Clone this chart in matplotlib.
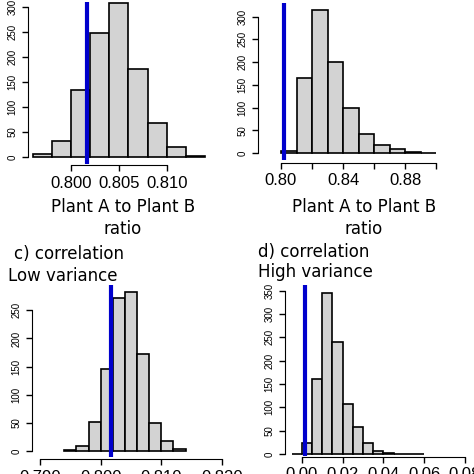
import matplotlib
matplotlib.use("Agg")
import matplotlib.pyplot as plt
import numpy as np

# Panel a
a_edges = [0.796, 0.798, 0.800, 0.802, 0.804, 0.806, 0.808, 0.810, 0.812, 0.814]
a_counts = [7, 33, 135, 248, 308, 177, 69, 20, 3]
a_line = 0.8017
# Panel b
b_edges = [0.80, 0.81, 0.82, 0.83, 0.84, 0.85, 0.86, 0.87, 0.88, 0.89, 0.90]
b_counts = [5, 165, 315, 200, 100, 42, 17, 8, 2, 1]
b_line = 0.802
# Panel c
c_edges = [0.794, 0.796, 0.798, 0.800, 0.802, 0.804, 0.806, 0.808, 0.810, 0.812, 0.814]
c_counts = [2, 8, 52, 145, 272, 282, 173, 49, 18, 3]
c_line = 0.8017
# Panel d
d_edges = [-0.005, 0.0, 0.005, 0.010, 0.015, 0.020, 0.025, 0.030, 0.035, 0.040, 0.045, 0.050, 0.055, 0.060]
d_counts = [0, 23, 160, 345, 240, 107, 57, 24, 7, 3, 1, 1, 1]
d_line = 0.0017

xlabel_text = "Plant A to Plant B\nratio"
c_title1 = "c) correlation"
c_title2 = "Low variance"
d_title = "d) correlation\nHigh variance"

W = 474
fig = plt.figure(figsize=(4.74, 4.74), dpi=100)
tickfont = dict(family=['Liberation Sans Narrow', 'Liberation Sans', 'DejaVu Sans'])

def make_ax(xl, yl, pxL, pxR, pyB, pyT):
    ax = fig.add_axes([pxL / W, 1 - pyB / W, (pxR - pxL) / W, (pyB - pyT) / W])
    ax.set_xlim(*xl); ax.set_ylim(*yl)
    ax.patch.set_alpha(0)
    for s in ['top', 'right']:
        ax.spines[s].set_visible(False)
    return ax

def draw(ax, edges, counts, line, xticks, xlabels, yticks, xoff, ylow, xfs=12):
    e = np.array(edges); c = np.array(counts)
    ax.bar(e[:-1], c, width=np.diff(e), align='edge', color='#d3d3d3',
           edgecolor='black', linewidth=1.2, clip_on=False)
    ax.vlines(line, ylow, ax.get_ylim()[1], color='#0000cc', linewidth=3, clip_on=False, zorder=5)
    ax.spines['bottom'].set_position(('outward', xoff))
    ax.spines['bottom'].set_bounds(xticks[0], xticks[-1])
    ax.spines['left'].set_bounds(yticks[0], yticks[-1])
    ax.set_xticks(xticks); ax.set_xticklabels(xlabels)
    ax.set_yticks(yticks)
    ax.set_yticklabels([str(t) for t in yticks], rotation=90, va='center', fontsize=7, **tickfont)
    for lab in ax.get_xticklabels():
        lab.set_fontsize(xfs); lab.set_family(tickfont['family'])
    ax.tick_params(length=4, width=1)

# a
ax = make_ax((0.7955, 0.8145), (0, 310), 27.8, 210, 157, 2)
draw(ax, a_edges, a_counts, a_line, [0.800, 0.805, 0.810], ["0.800", "0.805", "0.810"],
     [0, 50, 100, 150, 200, 250, 300], 6, -13)
# b
ax = make_ax((0.7852, 0.905), (0, 330), 258, 444, 153, 3)
draw(ax, b_edges, b_counts, b_line, [0.80, 0.82, 0.84, 0.86, 0.88, 0.90],
     ["0.80", "", "0.84", "", "0.88", ""], [0, 50, 100, 150, 200, 250, 300], 7, -15)
# c
ax = make_ax((0.78868, 0.8205), (0, 295), 32, 225, 451, 285)
draw(ax, c_edges, c_counts, c_line, [0.790, 0.800, 0.810, 0.820],
     ["0.790", "0.800", "0.810", "0.820"], [0, 50, 100, 150, 200, 250], 6, -10)
# d
ax = make_ax((-0.0082, 0.081), (0, 362), 285, 467, 454, 285)
draw(ax, d_edges, d_counts, d_line, [0.00, 0.02, 0.04, 0.06, 0.08],
     ["0.00", "0.02", "0.04", "0.06", "0.08"], [0, 50, 100, 150, 200, 250, 300, 350], 2, -4)

fig.text(123 / W, 1 - 218 / W, xlabel_text, ha='center', va='center', fontsize=12,
         linespacing=1.3, family='DejaVu Sans')
fig.text(364 / W, 1 - 218 / W, xlabel_text, ha='center', va='center', fontsize=12,
         linespacing=1.3, family='DejaVu Sans')
fig.text(14 / W, 1 - 254 / W, c_title1, ha='left', va='center', fontsize=12, family='DejaVu Sans')
fig.text(8 / W, 1 - 276 / W, c_title2, ha='left', va='center', fontsize=12, family='DejaVu Sans')
fig.text(258 / W, 1 - 262 / W, d_title, ha='left', va='center', fontsize=12,
         linespacing=1.2, family='DejaVu Sans')

fig.savefig("out.png", dpi=100)
